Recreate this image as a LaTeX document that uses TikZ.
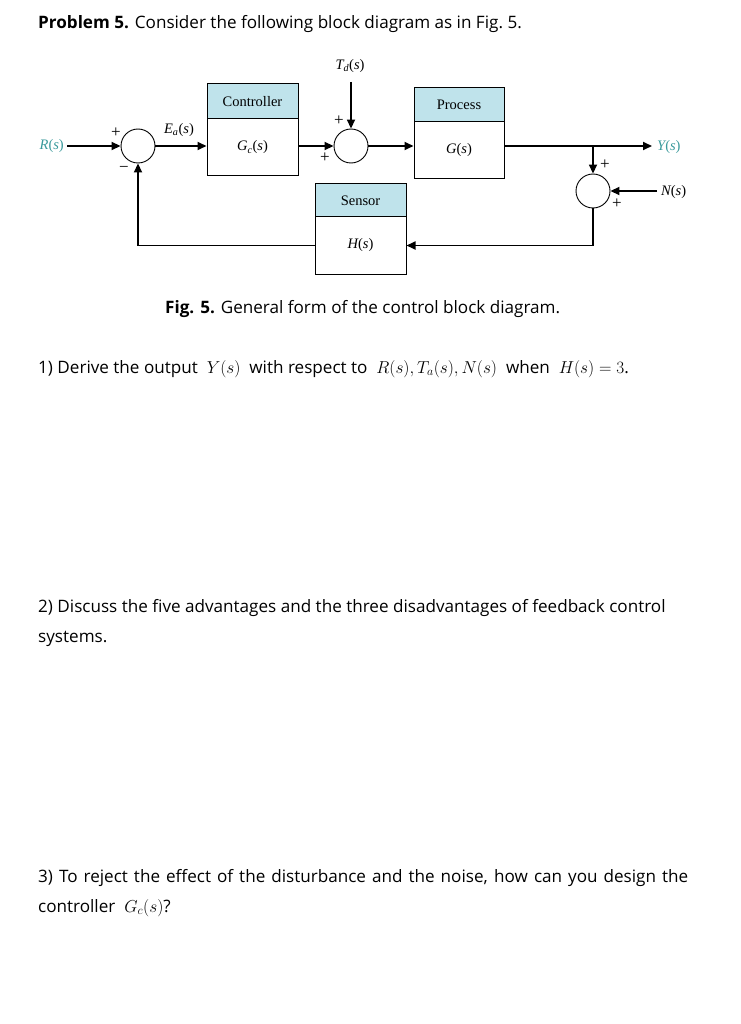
\documentclass[tikz,border=0pt]{standalone}
\usepackage{fontspec}
\setmainfont{Open Sans}
\newfontfamily\dserif{Liberation Serif}
\usetikzlibrary{arrows.meta,calc}
\definecolor{hdr}{HTML}{BFE3EB}
\definecolor{tealc}{HTML}{3A9A9C}
\newcommand\tfn[2]{{\itshape #1\textsubscript{#2}\upshape(\itshape s\upshape)}}
\newcommand\fnn[1]{{\itshape #1\upshape(\itshape s\upshape)}}
\begin{document}
\begin{tikzpicture}[x=1pt,y=-1pt,
 wire/.style={line width=1.7pt},
 arr/.style={wire,-{Triangle[length=9pt,width=8pt]}},
 sumc/.style={circle,draw,line width=0.9pt,minimum size=34pt,inner sep=0pt},
 boxh/.style={draw,line width=1pt,fill=hdr,minimum width=91pt,inner sep=0pt,font=\dserif\fontsize{14.5}{15}\selectfont},
 boxb/.style={draw,line width=1pt,minimum width=91pt,minimum height=57pt,inner sep=0pt,font=\dserif\fontsize{14.5}{15}\selectfont},
 lbl/.style={inner sep=0pt,font=\dserif\fontsize{14.5}{15}\selectfont},
 sgn/.style={inner sep=0pt,font=\dserif\fontsize{17}{17}\selectfont},
 txt/.style={anchor=base west,inner sep=0pt,font=\fontsize{17.1}{20}\selectfont}]
\useasboundingbox[fill=white] (0,0) rectangle (740,1024);

% texts
\node[txt] (title) at (38,29) {\textbf{Problem 5.} Consider the following block diagram as in Fig.~5.};
\node[txt] (cap) at (165,313) {\textbf{Fig. 5.} General form of the control block diagram.};
\node[txt] (q1) at (38,373) {1) Derive the output \ $Y(s)$ \ with respect to \ $R(s),T_a(s),N(s)$ \ when \ $H(s)=3$.};
\node[txt] (q2a) at (38,612) {2) Discuss the five advantages and the three disadvantages of feedback control};
\node[txt] (q2b) at (38,642) {systems.};
\node[txt] (q3a) at (38,882) {\makebox[650pt][s]{3) To reject the effect of the disturbance and the noise, how can you design the}};
\node[txt] (q3b) at (38,912) {controller \ $G_c(s)$?};

% blocks
\node[boxh,minimum height=35pt] (ctlh) at (252.5,101.5) {Controller};
\node[boxb] (ctlb) at (252.5,147.5) {\tfn{G}{c}};
\node[boxh,minimum height=34pt,minimum width=90pt] (prh) at (459,105) {Process};
\node[boxb,minimum width=90pt] (prb) at (459,150.5) {\fnn{G}};
\node[boxh,minimum height=33pt] (senh) at (360.5,200.5) {Sensor};
\node[boxb] (senb) at (360.5,245.5) {\fnn{H}};

% summing junctions
\node[sumc] (s1) at (138,146) {};
\node[sumc] (s2) at (351,146) {};
\node[sumc] (s3) at (593,191) {};

% labels
\node[lbl,text=tealc,anchor=east] (R) at (64,146) {\fnn{R}};
\node[lbl] (Ea) at (179,130) {\tfn{E}{a}};
\node[lbl] (Td) at (350,66) {\tfn{T}{d}};
\node[lbl,text=tealc,anchor=west] (Y) at (657,147) {\fnn{Y}};
\node[lbl,anchor=west] (N) at (661,192) {\fnn{N}};
\coordinate (tdin) at (351,82);
\coordinate (yout) at (652,146);
\coordinate (br) at (593,146);
\coordinate (nin) at (657,191);

% signs
\node[sgn] (p1) at (116,133) {+};
\node[sgn] (m1) at (124,169) {\textminus};
\node[sgn] (p2) at (339,121) {+};
\node[sgn] (p3) at (325,158) {+};
\node[sgn] (p4) at (605,165) {+};
\node[sgn] (p5) at (617,204) {+};

% connectors
\draw[arr] (R.east) ++(3,0) -- (s1.west);
\draw[arr] (s1.east) -- (s1.east -| ctlb.west);
\draw[arr] (ctlb.east |- s2) -- (s2.west);
\draw[arr] (tdin) -- (s2.north);
\draw[arr] (s2.east) -- (s2.east -| prb.west);
\draw[arr] (prb.east |- s2) -- (yout);
\draw[arr] (br) -- (s3.north);
\draw[arr] (nin) -- (s3.east);
\draw[arr] (s3.south) |- (senb.east);
\draw[arr] (senb.west) -| (s1.south);
\end{tikzpicture}
\end{document}
